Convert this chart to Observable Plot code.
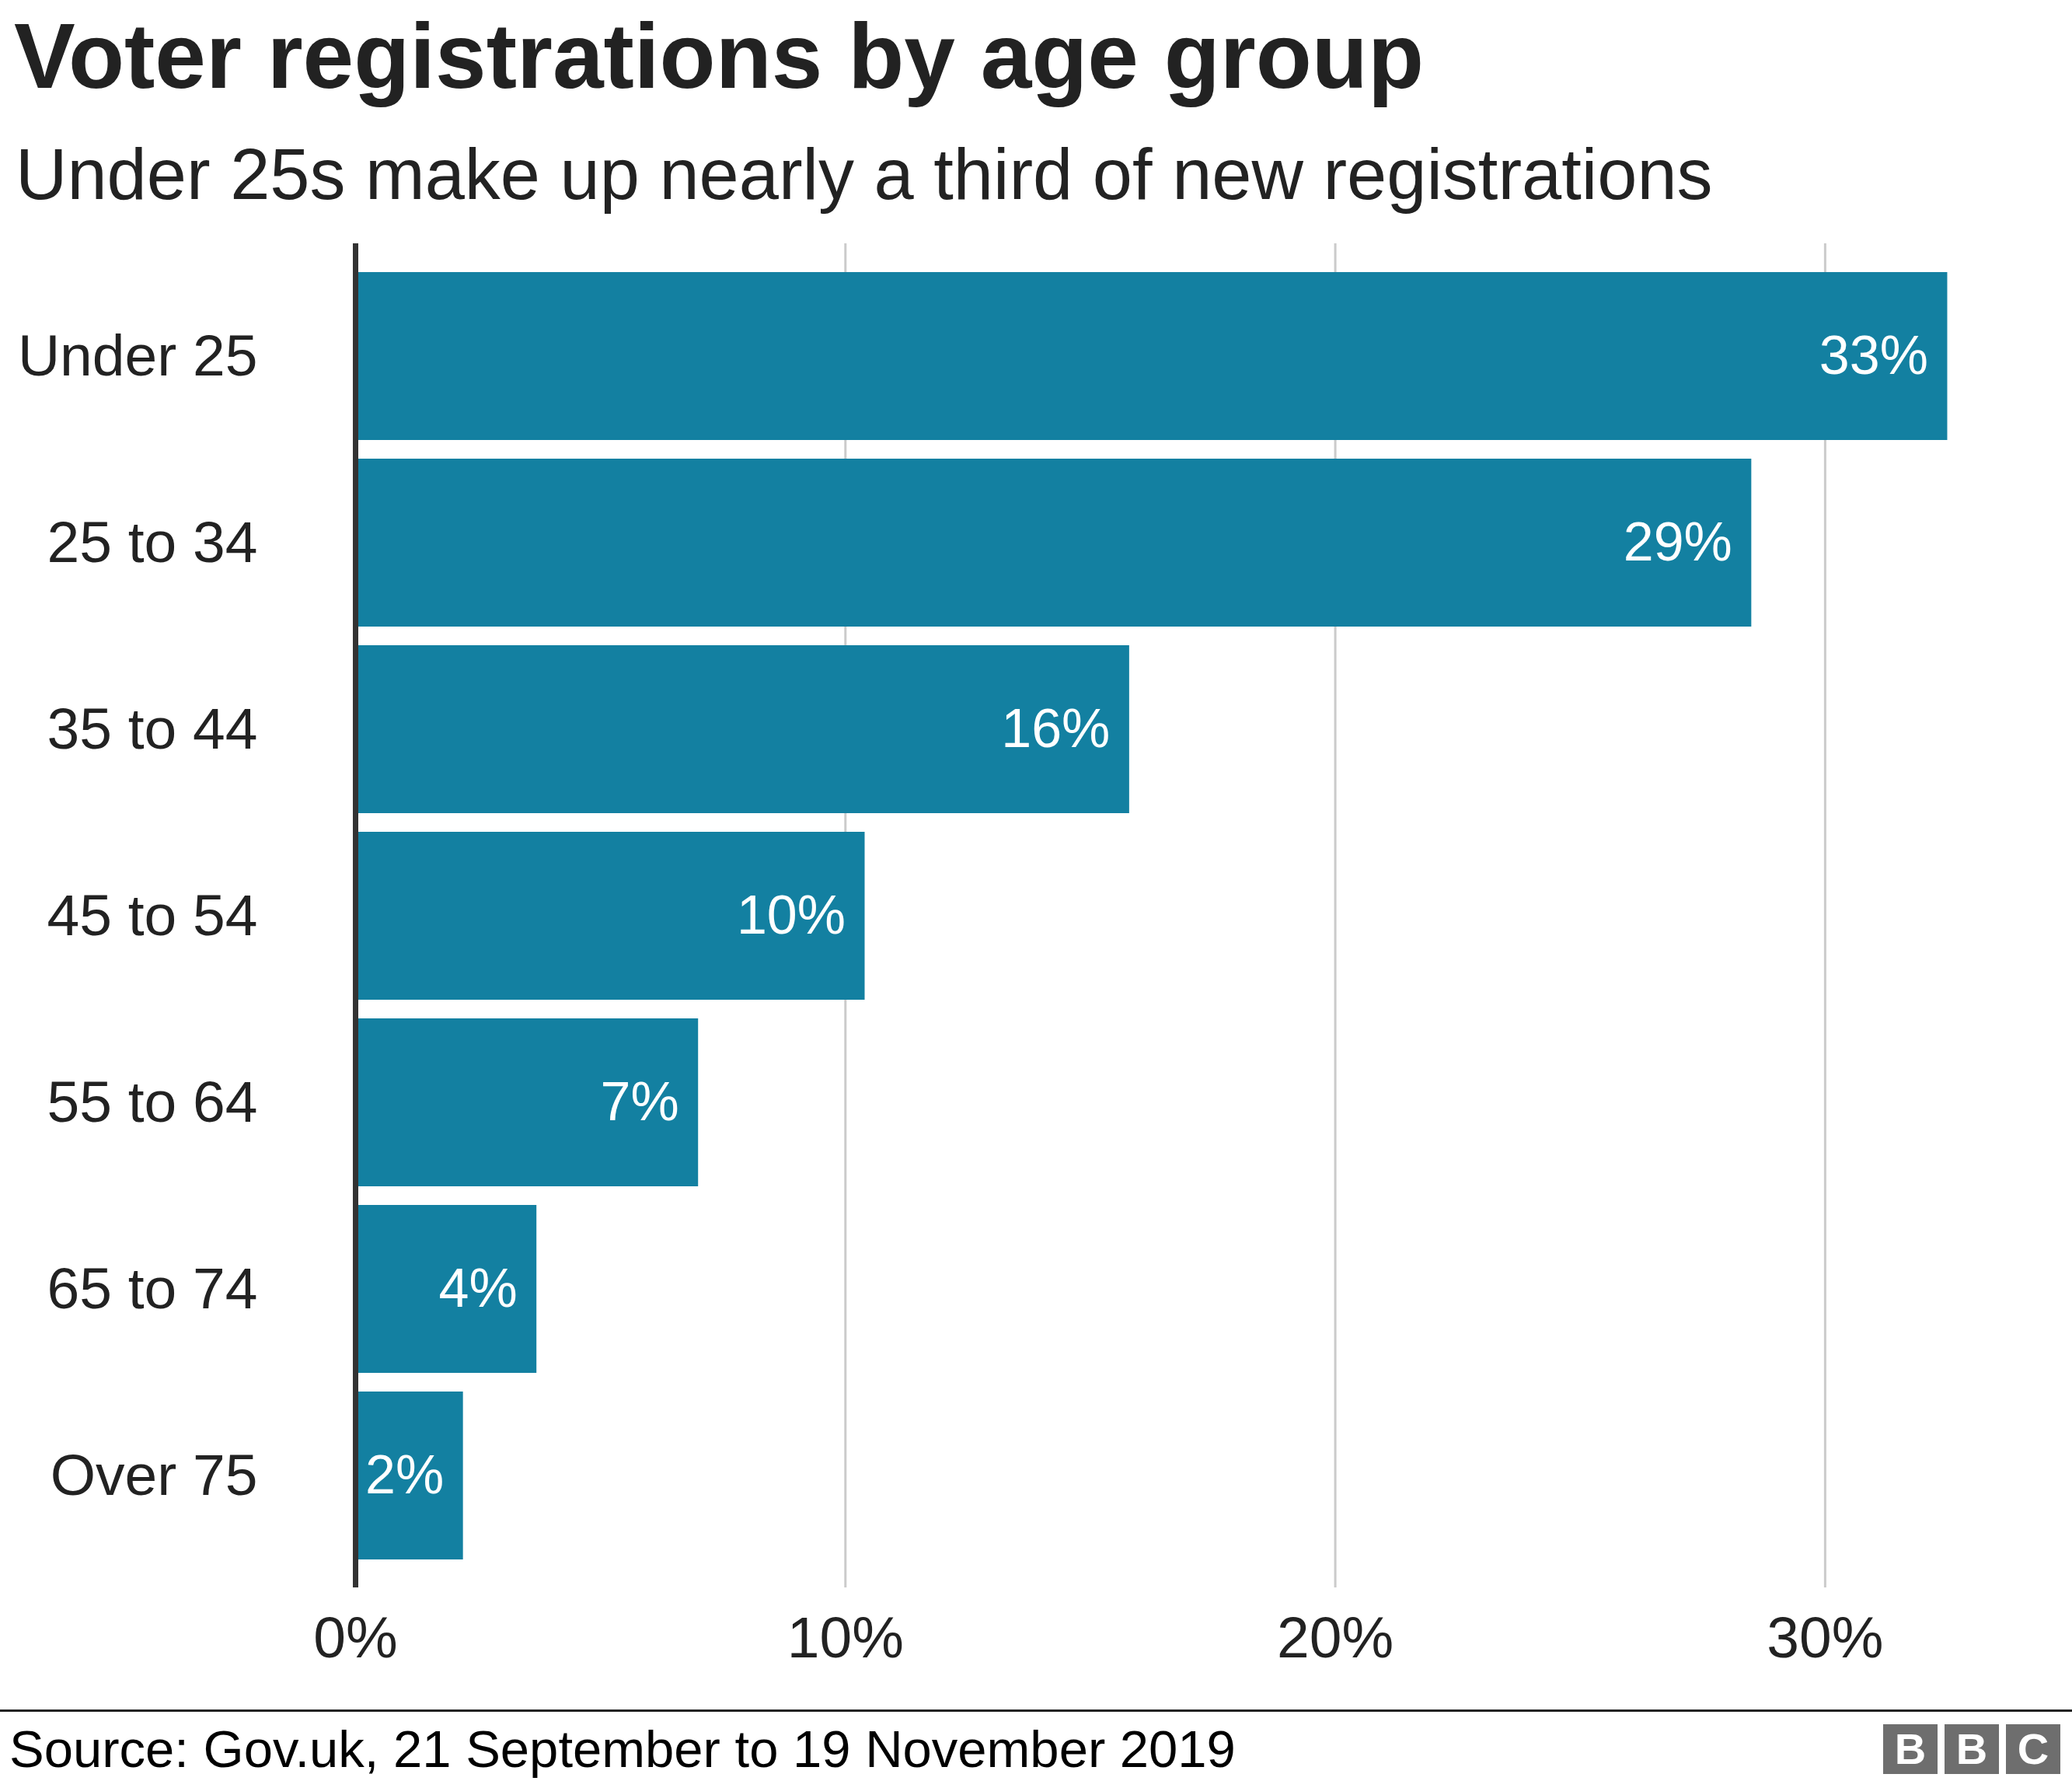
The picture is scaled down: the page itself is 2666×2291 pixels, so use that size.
<!DOCTYPE html>
<html>
<head>
<meta charset="utf-8">
<script src="https://cdn.jsdelivr.net/npm/d3@7"></script>
<script src="https://cdn.jsdelivr.net/npm/@observablehq/plot@0.6"></script>
<style>
  html, body { margin: 0; padding: 0; background: #ffffff; }
  #page {
    position: relative;
    width: 2666px;
    height: 2291px;
    font-family: "Liberation Sans", Arial, Helvetica, sans-serif;
    overflow: hidden;
  }
  #title {
    position: absolute; left: 18px; top: 11px;
    font-size: 118px; font-weight: bold; color: #222222;
    line-height: 1.05; margin: 0; white-space: nowrap;
  }
  #subtitle {
    position: absolute; left: 20px; top: 178px;
    font-size: 92px; color: #222222; line-height: 1; margin: 0; white-space: nowrap;
  }
  #chart { position: absolute; left: 0; top: 290px; }
  #rule {
    position: absolute; left: 0; top: 2199px; width: 2666px; height: 3px; background: #222222;
  }
  #source {
    position: absolute; left: 12px; top: 2216px;
    font-size: 67px; color: #000000; line-height: 1; white-space: nowrap;
  }
  #logo { position: absolute; left: 2423px; top: 2218px; display: flex; gap: 9px; }
  #logo span {
    display: block; width: 70px; height: 64px; background: #6e6e6e; color: #ffffff;
    font-weight: bold; font-size: 56px; line-height: 64px; text-align: center;
  }
</style>
</head>
<body>
<div id="page">
  <div id="title">Voter registrations by age group</div>
  <div id="subtitle">Under 25s make up nearly a third of new registrations</div>
  <div id="chart"></div>
  <div id="rule"></div>
  <div id="source">Source: Gov.uk, 21 September to 19 November 2019</div>
  <div id="logo"><span>B</span><span>B</span><span>C</span></div>
</div>
<script>
// Share of new voter registrations (%) by age group
const groups = ["Under 25", "25 to 34", "35 to 44", "45 to 54", "55 to 64", "65 to 74", "Over 75"];
const shares = [32.5, 28.5, 15.8, 10.4, 7.0, 3.7, 2.2];
const xTicks = [0, 10, 20, 30];

const rows = groups.map((group, i) => ({group, share: shares[i]}));
const pct = v => `${Math.round(v)}%`;

const chart = Plot.plot({
  width: 2666,
  height: 1905,
  marginLeft: 457,
  marginRight: 66,
  marginTop: 23,
  marginBottom: 153,
  style: {
    fontFamily: "'Liberation Sans', Arial, Helvetica, sans-serif",
    color: "#222222",
    background: "transparent"
  },
  x: {domain: [0, 34]},
  y: {domain: groups, paddingInner: 0.1, paddingOuter: 0.15},
  marks: [
    Plot.ruleX(xTicks, {stroke: "#cbcbcb", strokeWidth: 3}),
    Plot.barX(rows, {x: "share", y: "group", fill: "#1380A1"}),
    Plot.text(rows, {
      x: "share", y: "group", text: d => pct(d.share),
      textAnchor: "end", dx: -25, fill: "#ffffff", fontSize: 70
    }),
    Plot.ruleX([0], {stroke: "#333333", strokeWidth: 7}),
    Plot.axisY({tickSize: 0, tickPadding: 126, fontSize: 75, label: null}),
    Plot.axisX({ticks: xTicks, tickFormat: d => `${d}%`, tickSize: 0, tickPadding: 36, fontSize: 75, label: null})
  ]
});

document.getElementById("chart").appendChild(chart);
</script>
</body>
</html>
